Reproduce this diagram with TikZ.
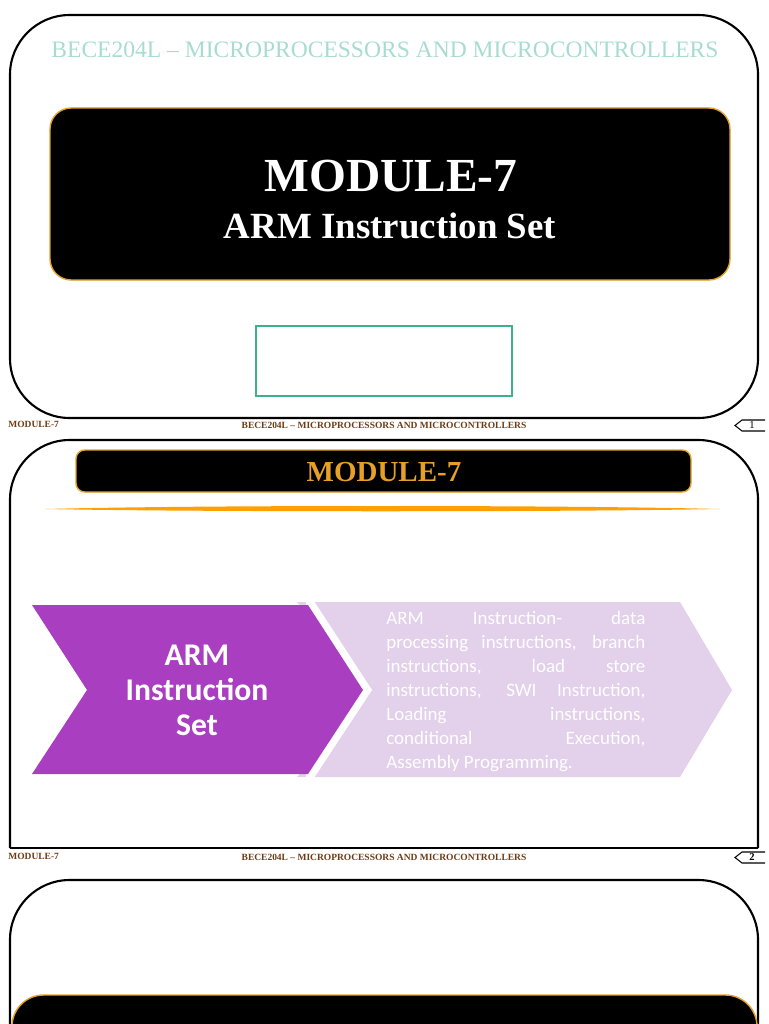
\documentclass[tikz,border=0pt]{standalone}
\usepackage{fontspec}
\usepackage[none]{hyphenat}
\setmainfont{Liberation Serif}
\newfontfamily\calibri{Carlito}
\usetikzlibrary{positioning}
\definecolor{TitleClr}{RGB}{168,220,208}
\definecolor{FrameClr}{RGB}{60,176,143}
\definecolor{GoldClr}{RGB}{230,160,40}
\definecolor{LineClr}{RGB}{255,160,0}
\definecolor{FootClr}{RGB}{110,60,20}
\definecolor{PurpleClr}{RGB}{169,63,192}
\definecolor{LilacClr}{RGB}{227,208,234}

\tikzset{
  slideframe/.style={draw=black,line width=1.2pt},
  blackbar/.style={fill=black,draw=GoldClr,line width=0.8pt,rounded corners=12pt},
  foot/.style={text=FootClr,font=\bfseries\fontsize{5.4}{6}\selectfont,inner sep=0pt},
}

\begin{document}
\begin{tikzpicture}[x=0.02cm,y=-0.02cm]
\useasboundingbox (0,0) rectangle (768,1024);
\clip (0,0) rectangle (768,1024);

% slide 1
\draw[slideframe,rounded corners=34pt] (10,15) rectangle (758,418);
\node[text=TitleClr,font=\fontsize{13.4}{15}\selectfont] (title) at (385,50) {BECE204L -- MICROPROCESSORS AND MICROCONTROLLERS};
\draw[blackbar] (50,108) rectangle (730,280);
\node[text=white,font=\bfseries\fontsize{27}{29}\selectfont] (mod) at (391,176) {MODULE-7};
\node[text=white,font=\bfseries\fontsize{21}{23}\selectfont] (sub) at (390,226) {ARM Instruction Set};
\draw[FrameClr,line width=1.2pt] (256,326) rectangle (512,396);

% footer 1
\node[foot,anchor=west] (fl1) at (8,424) {MODULE-7};
\node[foot] (fc1) at (384,425) {BECE204L -- MICROPROCESSORS AND MICROCONTROLLERS};
\draw[line width=0.6pt] (765,420) -- (742,420) -- (735,425.5) -- (742,431) -- (765,431);
\node[font=\fontsize{6}{7}\selectfont,inner sep=0pt] (pg1) at (752,425.5) {1};

% slide 2
\draw[slideframe,rounded corners=34pt] (10,848) -- (10,440) -- (758,440) -- (758,848);
\draw[slideframe] (758,848) -- (10,848);
\draw[blackbar,rounded corners=5pt] (76,450) rectangle (691,492);
\node[text=GoldClr,font=\bfseries\fontsize{16.5}{18}\selectfont] (mod2) at (384,472) {MODULE-7};
\fill[LineClr] (45,509) .. controls (200,505) and (560,505) .. (720,509)
  .. controls (560,512) and (200,512) .. (45,509);

\fill[LilacClr] (297,602) -- (680,602) -- (732,690) -- (680,777) -- (297,777) -- (372,690) -- cycle;
\fill[white] (306,598) -- (312,598) -- (372,690) -- (312,781) -- (306,781) -- cycle;
\fill[PurpleClr] (32,605) -- (308,605) -- (363,690) -- (308,774) -- (32,774) -- (87,690) -- cycle;
\node[text=white,align=center,font=\calibri\bfseries\fontsize{18}{20}\selectfont] (arm) at (197,690) {ARM\\Instruction\\Set};
\node[text=white,text width=259*0.02cm,align=justify,inner sep=0pt,anchor=north west,
  font=\calibri\fontsize{10.8}{13.7}\selectfont] (desc) at (386,611)
  {ARM Instruction- data\linebreak processing instructions, branch\linebreak instructions, load store\linebreak instructions, SWI Instruction,\linebreak Loading instructions,\linebreak conditional Execution,\linebreak Assembly Programming.};

% footer 2
\node[foot,anchor=west] (fl2) at (8,856) {MODULE-7};
\node[foot] (fc2) at (384,857) {BECE204L -- MICROPROCESSORS AND MICROCONTROLLERS};
\draw[line width=0.6pt] (765,852) -- (742,852) -- (735,857.5) -- (742,863) -- (765,863);
\node[font=\bfseries\fontsize{6}{7}\selectfont,inner sep=0pt] (pg2) at (752,857.5) {2};

% slide 3
\draw[slideframe,rounded corners=34pt] (10,1060) -- (10,880) -- (758,880) -- (758,1060);
\draw[blackbar,rounded corners=18pt] (12,995) rectangle (757,1080);
\end{tikzpicture}
\end{document}
